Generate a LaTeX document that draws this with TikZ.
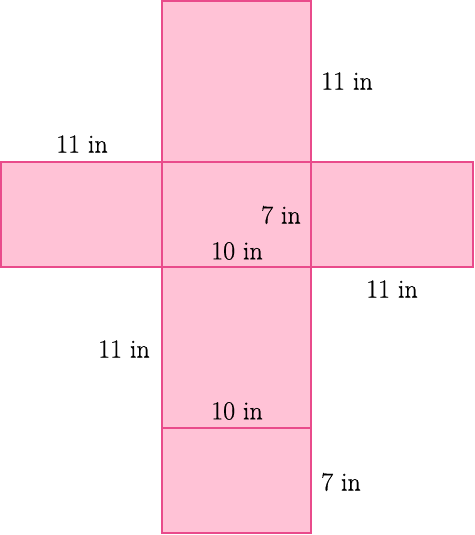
\documentclass[tikz,border=0pt]{standalone}
\usepackage{fontspec}
\setmainfont{Latin Modern Roman}[FakeBold=0.6]
\definecolor{netfill}{HTML}{FFC2D6}
\definecolor{netline}{HTML}{E94B8B}
\begin{document}
\begin{tikzpicture}[x=1pt,y=-1pt,
  face/.style={fill=netfill,draw=netline,line width=2.2pt},
  lbl/.style={font=\fontsize{26}{30}\selectfont,text=black,inner sep=0pt}]
\useasboundingbox (0,0) rectangle (474,535);
\draw[face] (162,1) rectangle (311,162);
\draw[face] (1,162) rectangle (162,267);
\draw[face] (311,162) rectangle (473,267);
\draw[face] (162,162) rectangle (311,267);
\draw[face] (162,267) rectangle (311,428);
\draw[face] (162,428) rectangle (311,533);
\node[lbl] (a) at (347,81) {11 in};
\node[lbl] (b) at (82,144) {11 in};
\node[lbl] (c) at (281,215) {7 in};
\node[lbl] (d) at (237,251) {10 in};
\node[lbl] (e) at (392,289) {11 in};
\node[lbl] (f) at (124,349) {11 in};
\node[lbl] (g) at (237,411) {10 in};
\node[lbl] (h) at (341,482) {7 in};
\end{tikzpicture}
\end{document}
